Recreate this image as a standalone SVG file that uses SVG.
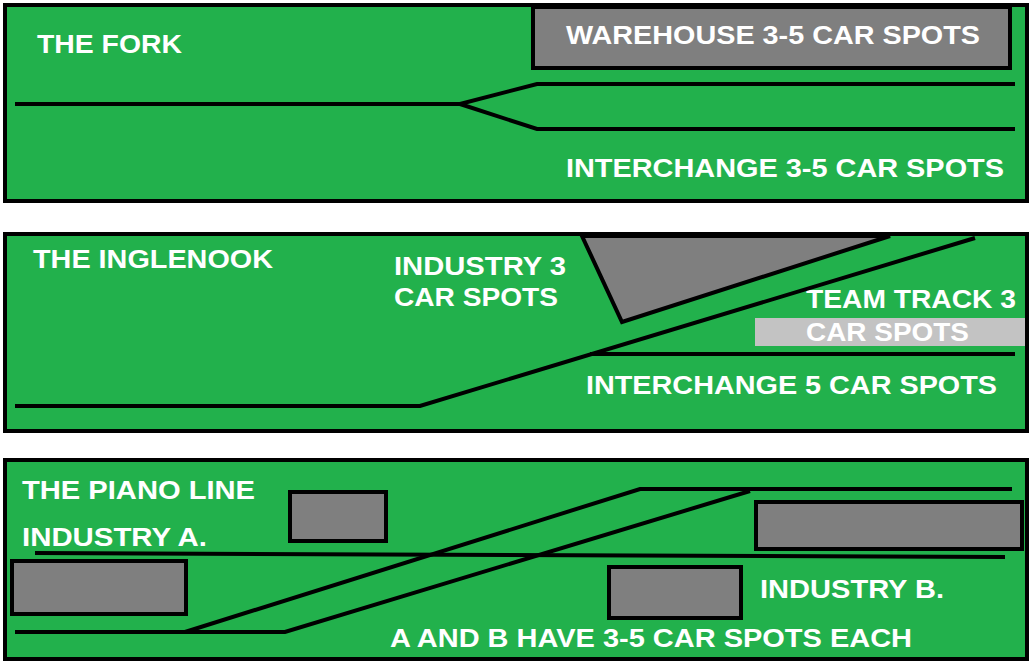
<svg xmlns="http://www.w3.org/2000/svg" width="1031" height="667" viewBox="0 0 1031 667">
<style>
.panel{fill:#22b14c;stroke:#000;stroke-width:4}
.bld{fill:#7f7f7f;stroke:#000;stroke-width:4}
.trk{fill:none;stroke:#000;stroke-width:4}
.t{font-family:"Liberation Sans",Arial,sans-serif;font-weight:bold;font-size:26px;fill:#fff}
</style>
<rect width="1031" height="667" fill="#fff"/>
<g id="fork">
<rect class="panel" x="5" y="5" width="1022" height="196"/>
<rect class="bld" x="533" y="7" width="477" height="61"/>
<text class="t" x="566" y="44" textLength="414" lengthAdjust="spacingAndGlyphs">WAREHOUSE 3-5 CAR SPOTS</text>
<text class="t" x="37" y="53" textLength="145" lengthAdjust="spacingAndGlyphs">THE FORK</text>
<polyline class="trk" points="15,104 460,104 537,84 1015,84"/>
<polyline class="trk" points="460,104 537,129 1015,129"/>
<text class="t" x="566" y="177" textLength="438" lengthAdjust="spacingAndGlyphs">INTERCHANGE 3-5 CAR SPOTS</text>
</g>
<g id="inglenook">
<rect class="panel" x="5" y="234" width="1022" height="197"/>
<polygon class="bld" points="582,236 890,236 622,322"/>
<rect x="755" y="318" width="270" height="28" fill="#c3c3c3"/>
<text class="t" x="33" y="268" textLength="240" lengthAdjust="spacingAndGlyphs">THE INGLENOOK</text>
<text class="t" x="394" y="275" textLength="172" lengthAdjust="spacingAndGlyphs">INDUSTRY 3</text>
<text class="t" x="394" y="306" textLength="164" lengthAdjust="spacingAndGlyphs">CAR SPOTS</text>
<text class="t" x="806" y="308" textLength="210" lengthAdjust="spacingAndGlyphs">TEAM TRACK 3</text>
<text class="t" x="806" y="341" textLength="163" lengthAdjust="spacingAndGlyphs">CAR SPOTS</text>
<polyline class="trk" points="15,406 420,406 975,238"/>
<line class="trk" x1="590" y1="354" x2="1015" y2="354"/>
<text class="t" x="586" y="394" textLength="411" lengthAdjust="spacingAndGlyphs">INTERCHANGE 5 CAR SPOTS</text>
</g>
<g id="piano">
<rect class="panel" x="5" y="460" width="1022" height="199"/>
<rect class="bld" x="290" y="492" width="96" height="49"/>
<rect class="bld" x="12" y="561" width="174" height="53"/>
<rect class="bld" x="756" y="502" width="266" height="47"/>
<rect class="bld" x="609" y="567" width="132" height="51"/>
<text class="t" x="22" y="499" textLength="233" lengthAdjust="spacingAndGlyphs">THE PIANO LINE</text>
<text class="t" x="22" y="546" textLength="185" lengthAdjust="spacingAndGlyphs">INDUSTRY A.</text>
<line class="trk" x1="35" y1="553" x2="1005" y2="557"/>
<polyline class="trk" points="15,632 285,632 750,491"/>
<polyline class="trk" points="185,632 640,489 1012,489"/>
<text class="t" x="760" y="598" textLength="184" lengthAdjust="spacingAndGlyphs">INDUSTRY B.</text>
<text class="t" x="390" y="647" textLength="522" lengthAdjust="spacingAndGlyphs">A AND B HAVE 3-5 CAR SPOTS EACH</text>
</g>
</svg>
